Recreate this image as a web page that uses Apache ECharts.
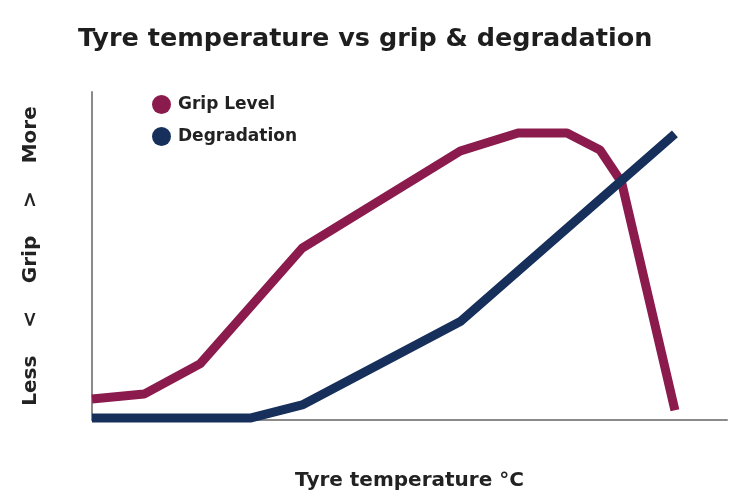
<!DOCTYPE html>
<html>
<head>
<meta charset="utf-8">
<script src="https://cdn.jsdelivr.net/npm/echarts@6/dist/echarts.min.js"></script>
<style>
  html, body { margin: 0; padding: 0; background: #fff; }
  #chart { width: 750px; height: 503px; }
</style>
</head>
<body>
<div id="chart"></div>
<script>
// temperature (0-100 relative) vs level (0-100 relative)
const gripTemp = [0, 8.2, 17, 33.1, 58, 67.1, 74.8, 80, 83.4, 91.8];
const gripLevel = [6.4, 7.9, 17.1, 52.4, 82, 87.5, 87.5, 82.3, 72.5, 3];

const degTemp = [0, 24.9, 33.1, 58, 91.8];
const degLevel = [0.6, 0.6, 4.6, 30, 87.2];

const seriesNames = ['Grip Level', 'Degradation'];
const colors = ['#8b1a4d', '#17305b'];

const font = '"DejaVu Sans", sans-serif';

const chart = echarts.init(document.getElementById('chart'));

const option = {
    backgroundColor: '#fff',
    animation: false,
    title: {
        text: 'Tyre temperature vs grip & degradation',
        left: 73,
        top: 21,
        textStyle: { fontFamily: font, fontWeight: 'bold', fontSize: 25.5, color: '#1e1e1e' }
    },
    legend: {
        orient: 'vertical',
        left: 147,
        top: 90,
        icon: 'circle',
        itemWidth: 19,
        itemHeight: 19,
        itemGap: 13,
        data: seriesNames,
        textStyle: { fontFamily: font, fontWeight: 'bold', fontSize: 17, color: '#222', padding: [0, 0, 0, 2] }
    },
    grid: { left: 92, right: 23, top: 92, bottom: 83 },
    xAxis: {
        type: 'value',
        min: 0,
        max: 100,
        name: 'Tyre temperature °C',
        nameLocation: 'middle',
        nameGap: 51,
        nameTextStyle: { fontFamily: font, fontWeight: 'bold', fontSize: 20, color: '#222' },
        axisLine: { show: true, onZero: false, lineStyle: { color: '#8a8a8a', width: 2 } },
        axisTick: { show: false },
        axisLabel: { show: false },
        splitLine: { show: false }
    },
    yAxis: {
        type: 'value',
        min: 0,
        max: 100,
        name: 'Less    <    Grip    >    More',
        nameLocation: 'middle',
        nameRotate: 90,
        nameGap: 51,
        nameTextStyle: { fontFamily: font, fontWeight: 'bold', fontSize: 20, color: '#222' },
        axisLine: { show: true, lineStyle: { color: '#8a8a8a', width: 2 } },
        axisTick: { show: false },
        axisLabel: { show: false },
        splitLine: { show: false }
    },
    series: [
        {
            name: seriesNames[0],
            type: 'line',
            data: gripTemp.map((t, i) => [t, gripLevel[i]]),
            showSymbol: false,
            color: colors[0],
            lineStyle: { width: 9, color: colors[0], cap: 'butt', join: 'bevel' }
        },
        {
            name: seriesNames[1],
            type: 'line',
            data: degTemp.map((t, i) => [t, degLevel[i]]),
            showSymbol: false,
            color: colors[1],
            lineStyle: { width: 9, color: colors[1], cap: 'butt', join: 'bevel' }
        }
    ]
};

chart.setOption(option);
</script>
</body>
</html>
